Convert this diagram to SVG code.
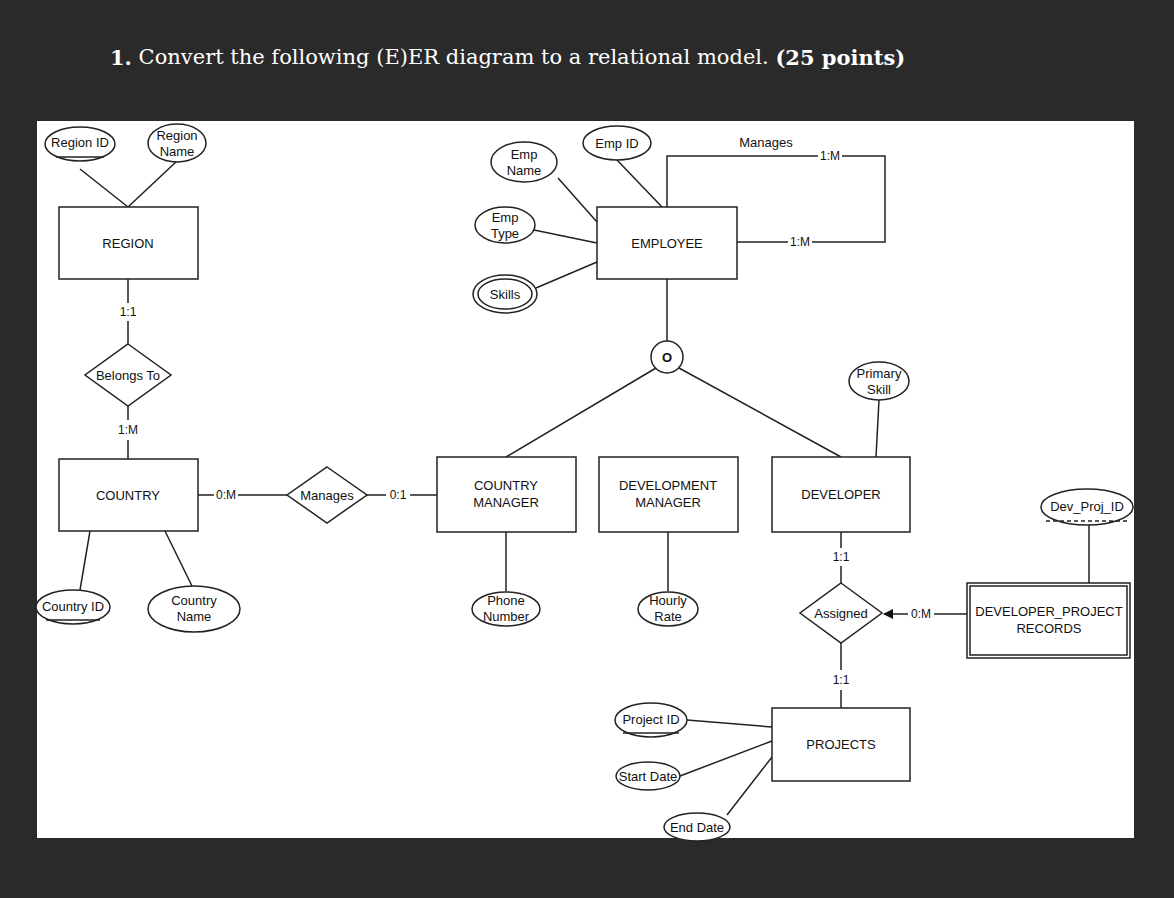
<svg xmlns="http://www.w3.org/2000/svg" width="1174" height="898" viewBox="0 0 1174 898">
<style>
.s{fill:#fff;stroke:#222;stroke-width:1.5}
.l{stroke:#222;stroke-width:1.5;fill:none}
text{font-family:"Liberation Sans",Arial,sans-serif;font-size:13px;fill:#111;text-anchor:middle;dominant-baseline:central}
.lb{font-size:12px}
</style>
<defs><marker id="ar" markerWidth="10" markerHeight="10" refX="9" refY="5" orient="auto" markerUnits="userSpaceOnUse"><path d="M0,0L10,5L0,10z" fill="#111"/></marker></defs>
<rect width="1174" height="898" fill="#2a2a2a"/>
<text x="110" y="57" style="font-family:'DejaVu Serif',serif;font-size:21px;fill:#fff;text-anchor:start"><tspan font-weight="bold">1.</tspan>  Convert the following (E)ER diagram to a relational model. <tspan font-weight="bold">(25 points)</tspan></text>
<rect x="37" y="121" width="1097" height="717" fill="#fff"/>
<g id="connectors">
<path class="l" d="M80,169L128,207M177,161L128,207M128,279V303M128,321V344M128,406V420M128,440V459M90,531L80,590M165,531L192,586M198,495H214M238,495H288M367,495H386M410,495H437M506,532V591M668,532V591M617,160L662,207M558,178L597,222M534,230L597,243M536,288L597,262M667,207V156H818M842,156H885V242H812M788,242H737M667,279V341M656,368L506,457M679,368L841,457M879,400L876,457M841,532V548M841,566V583M841,643V670M841,690V708M687,720L772,727M680,776L772,741M727,815L772,757M1089,525V583"/>
<path class="l" d="M967,614H934M908,614H884" marker-end="url(#ar)"/>
<text class="lb" x="830" y="156">1:M</text><text class="lb" x="800" y="242">1:M</text>
<text class="lb" x="128" y="312">1:1</text><text class="lb" x="128" y="430">1:M</text>
<text class="lb" x="226" y="495">0:M</text><text class="lb" x="398" y="495">0:1</text>
<text x="766" y="142">Manages</text>
<text class="lb" x="841" y="557">1:1</text><text class="lb" x="841" y="680">1:1</text>
<text class="lb" x="921" y="614">0:M</text>
</g>
<g id="region"><rect class="s" x="59" y="207" width="139" height="72"/><text x="128" y="243">REGION</text></g>
<g id="region-id"><ellipse class="s" cx="80" cy="144" rx="35" ry="17"/><line class="l" x1="56" y1="157" x2="104" y2="157"/><text x="80" y="142">Region ID</text></g>
<g id="region-name"><ellipse class="s" cx="177" cy="143" rx="29" ry="19"/><text x="177" y="135">Region</text><text x="177" y="151">Name</text></g>
<g id="belongs"><path class="s" d="M128,344L171,375L128,406L85,375z"/><text x="128" y="375">Belongs To</text></g>
<g id="country"><rect class="s" x="59" y="459" width="139" height="72"/><text x="128" y="495">COUNTRY</text></g>
<g id="country-id"><ellipse class="s" cx="73" cy="607" rx="37" ry="17"/><line class="l" x1="46" y1="620" x2="100" y2="620"/><text x="73" y="606">Country ID</text></g>
<g id="country-name"><ellipse class="s" cx="194" cy="609" rx="46" ry="23"/><text x="194" y="600">Country</text><text x="194" y="616">Name</text></g>
<g id="manages"><path class="s" d="M327,467L367,495L327,523L287,495z"/><text x="327" y="495">Manages</text></g>
<g id="country-manager"><rect class="s" x="437" y="457" width="139" height="75"/><text x="506" y="485">COUNTRY</text><text x="506" y="502">MANAGER</text></g>
<g id="dev-manager"><rect class="s" x="599" y="457" width="139" height="75"/><text x="668" y="485">DEVELOPMENT</text><text x="668" y="502">MANAGER</text></g>
<g id="developer"><rect class="s" x="772" y="457" width="138" height="75"/><text x="841" y="494">DEVELOPER</text></g>
<g id="phone"><ellipse class="s" cx="506" cy="609" rx="34" ry="17"/><text x="506" y="600">Phone</text><text x="506" y="616">Number</text></g>
<g id="hourly"><ellipse class="s" cx="668" cy="609" rx="30" ry="17"/><text x="668" y="600">Hourly</text><text x="668" y="616">Rate</text></g>
<g id="employee"><rect class="s" x="597" y="207" width="140" height="72"/><text x="667" y="243">EMPLOYEE</text></g>
<g id="emp-id"><ellipse class="s" cx="617" cy="143" rx="34" ry="17"/><text x="617" y="143">Emp ID</text></g>
<g id="emp-name"><ellipse class="s" cx="524" cy="162" rx="33" ry="20"/><text x="524" y="154">Emp</text><text x="524" y="170">Name</text></g>
<g id="emp-type"><ellipse class="s" cx="505" cy="225" rx="30" ry="18"/><text x="505" y="217">Emp</text><text x="505" y="233">Type</text></g>
<g id="skills"><ellipse class="s" cx="505" cy="294" rx="32" ry="19"/><ellipse class="s" cx="505" cy="294" rx="27" ry="15"/><text x="505" y="294">Skills</text></g>
<g id="overlap"><circle class="s" cx="667" cy="357" r="16"/><text x="667" y="357" font-weight="bold">O</text></g>
<g id="primary-skill"><ellipse class="s" cx="879" cy="381" rx="30" ry="19"/><text x="879" y="373">Primary</text><text x="879" y="389">Skill</text></g>
<g id="assigned"><path class="s" d="M841,583L882,613L841,643L800,613z"/><text x="841" y="613">Assigned</text></g>
<g id="dpr"><rect class="s" x="967" y="583" width="163" height="75"/><rect class="s" x="970" y="586" width="157" height="69"/><text x="1049" y="611">DEVELOPER_PROJECT</text><text x="1049" y="628">RECORDS</text></g>
<g id="dev-proj-id"><ellipse class="s" cx="1087" cy="507" rx="46" ry="18"/><line class="l" x1="1046" y1="521" x2="1128" y2="521" stroke-dasharray="4,3"/><text x="1087" y="506">Dev_Proj_ID</text></g>
<g id="projects"><rect class="s" x="772" y="708" width="138" height="73"/><text x="841" y="744">PROJECTS</text></g>
<g id="project-id"><ellipse class="s" cx="651" cy="720" rx="36" ry="17"/><line class="l" x1="623" y1="733" x2="679" y2="733"/><text x="651" y="719">Project ID</text></g>
<g id="start-date"><ellipse class="s" cx="648" cy="776" rx="32" ry="14"/><text x="648" y="776">Start Date</text></g>
<g id="end-date"><ellipse class="s" cx="697" cy="827" rx="33" ry="14"/><text x="697" y="827">End Date</text></g>
</svg>
